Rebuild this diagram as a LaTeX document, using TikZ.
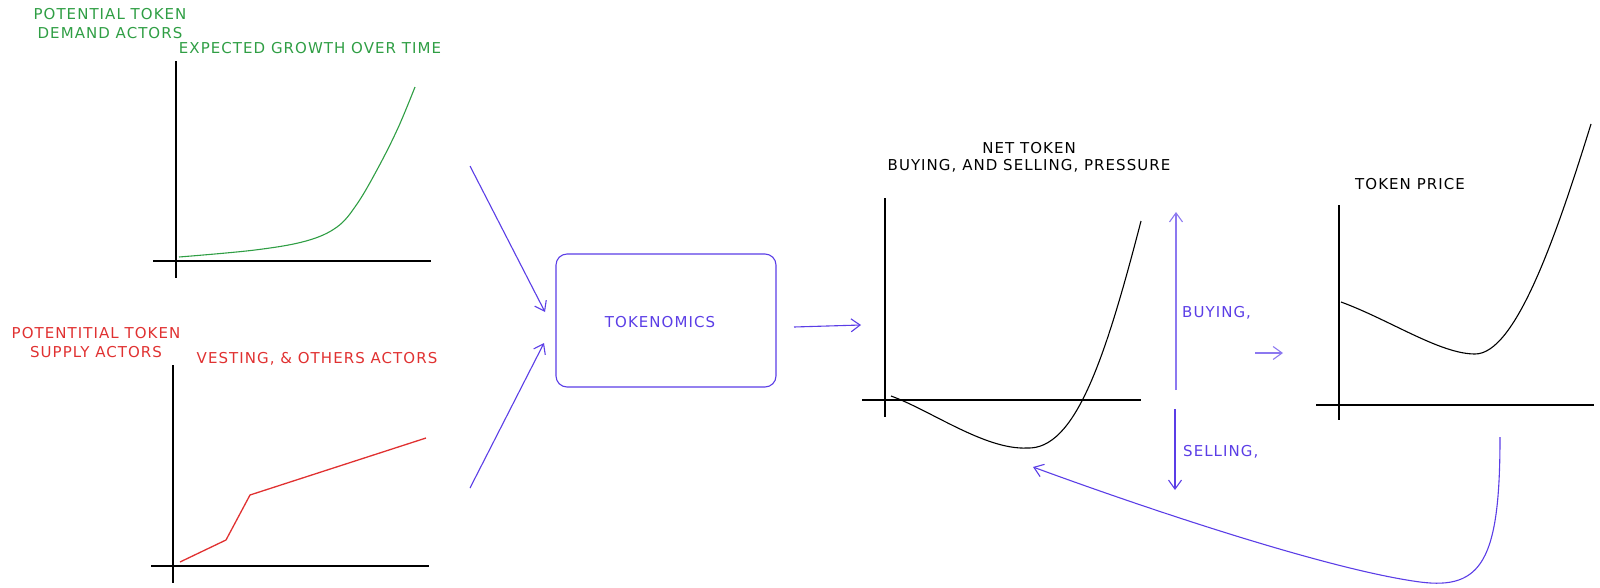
\documentclass[tikz,border=0pt]{standalone}
\usepackage{fontspec}
\setmainfont{DejaVu Sans}[LetterSpace=7]
\usetikzlibrary{arrows.meta}
\definecolor{vio}{HTML}{5B3EE6}
\definecolor{viol}{HTML}{8C78F0}
\definecolor{grn}{HTML}{2F9E44}
\definecolor{rd}{HTML}{E03131}
\begin{document}
\begin{tikzpicture}[x=1pt,y=-1pt,
  lbl/.style={font=\fontsize{15}{19}\selectfont, inner sep=0pt, align=center},
  axisline/.style={line width=1.4pt, black},
  conn/.style={vio, line width=1.1pt, -{Straight Barb[length=9pt,width=13pt]}},
  curveline/.style={line width=1.1pt}]
\useasboundingbox (0,0) rectangle (1600,587);

% ---------- demand chart ----------
\draw[axisline] (176,61) -- (176,278);
\draw[axisline] (153,261) -- (431,261);
\draw[grn, curveline] plot[smooth, tension=0.6] coordinates {(179,257) (255,250) (306,241) (337,227) (357,204) (378,168) (398,128) (415,87)};
\node[lbl, grn] (demand) at (110,23.5) {POTENTIAL TOKEN\\DEMAND ACTORS};
\node[lbl, grn] (growth) at (310,48) {EXPECTED GROWTH OVER TIME};

% ---------- supply chart ----------
\draw[axisline] (173,365) -- (173,583);
\draw[axisline] (151,566) -- (429,566);
\draw[rd, line width=1.3pt] (180,562) -- (226,540) -- (250,495) -- (426,438);
\node[lbl, rd] (supply) at (96,343) {POTENTITIAL TOKEN\\SUPPLY ACTORS};
\node[lbl, rd] (vesting) at (317,359) {VESTING, \& OTHERS ACTORS};

% ---------- tokenomics ----------
\node[draw=vio, line width=1.1pt, rounded corners=11pt, minimum width=220pt, minimum height=133pt] (tok) at (666,320.5) {};
\node[lbl, text=vio] (toktext) at (660,322) {TOKENOMICS};
\coordinate (d1) at (470,166);
\coordinate (d2) at (545,312);
\coordinate (s1) at (470,488);
\coordinate (s2) at (544,343);
\draw[conn] (d1) -- (d2);
\draw[conn] (s1) -- (s2);
\coordinate (t1) at (794,327);
\coordinate (t2) at (861,325);
\draw[conn] (t1) -- (t2);

% ---------- net token chart ----------
\draw[axisline] (885,198) -- (885,417);
\draw[axisline] (862,400) -- (1141,400);
\draw[black, curveline] (891,396) .. controls (930,410) and (985,450) .. (1027,448) .. controls (1075,450) and (1105,360) .. (1141,221);
\node[lbl, font=\fontsize{15}{17}\selectfont] (net) at (1029,157) {NET TOKEN\\BUYING, AND SELLING, PRESSURE};

\coordinate (b1) at (1176,390);
\coordinate (b2) at (1176,212);
\draw[conn, viol] (b1) -- (b2);
\coordinate (se1) at (1175,409);
\coordinate (se2) at (1175,490);
\draw[conn] (se1) -- (se2);
\node[lbl, vio, anchor=west] (buying) at (1182,313) {BUYING,};
\node[lbl, vio, anchor=west] (selling) at (1183,452) {SELLING,};
\coordinate (p1) at (1255,353);
\coordinate (p2) at (1283,353);
\draw[conn, viol] (p1) -- (p2);

% ---------- token price chart ----------
\draw[axisline] (1339,205) -- (1339,420);
\draw[axisline] (1316,405) -- (1594,405);
\draw[black, curveline] (1341,302) .. controls (1390,320) and (1440,354) .. (1475,354) .. controls (1515,354) and (1555,240) .. (1591,124);
\node[lbl] (price) at (1410,184) {TOKEN PRICE};

% ---------- feedback ----------
\coordinate (fb1) at (1500,437);
\coordinate (fbm) at (1420,582);
\coordinate (fb2) at (1033,467);
\draw[conn] (fb1) .. controls (1500,560) and (1482,590) .. (fbm) .. controls (1330,570) and (1150,510) .. (fb2);
\end{tikzpicture}
\end{document}
